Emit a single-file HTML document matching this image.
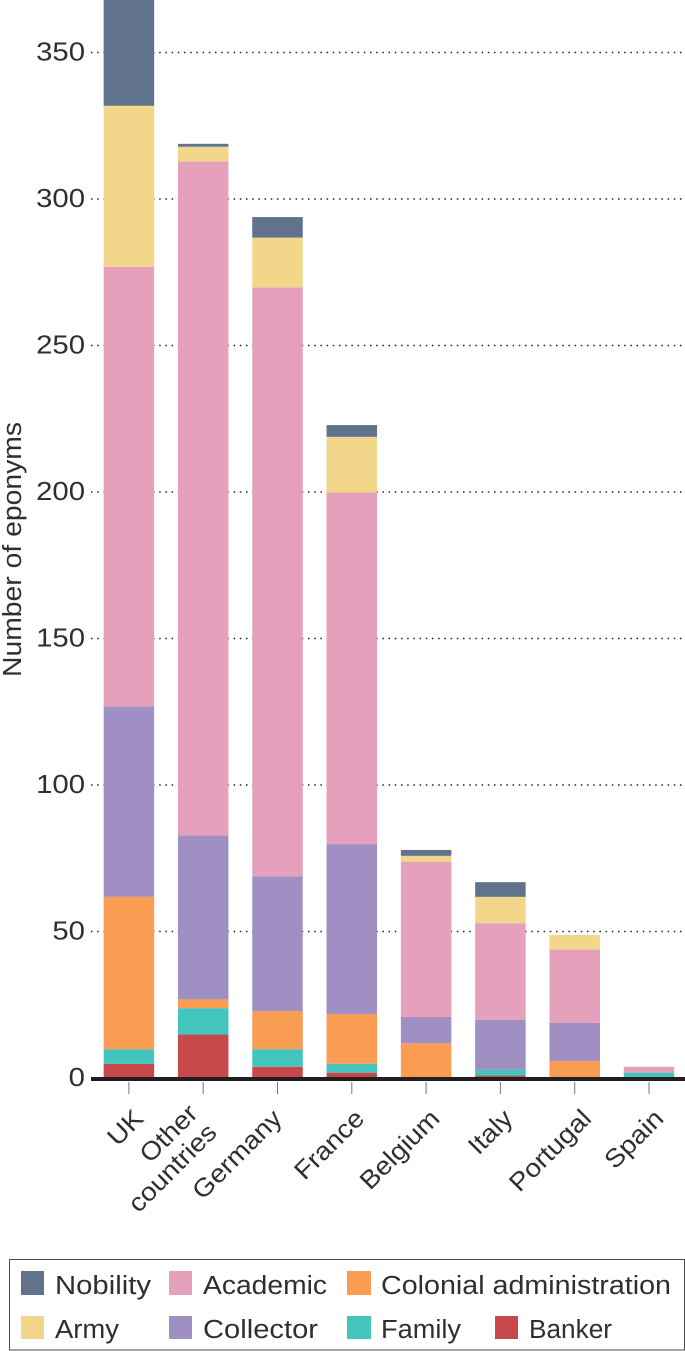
<!DOCTYPE html>
<html lang="en">
<head>
<meta charset="utf-8">
<title>Number of eponyms by country</title>
<style>
  html, body { margin: 0; padding: 0; background: #fff; }
  body { width: 685px; height: 1351px; overflow: hidden; }
  svg { display: block; }
  text { font-family: "Liberation Sans", sans-serif; font-size: 25.5px; fill: #302e2f; }
</style>
</head>
<body>
<svg id="chart" xmlns="http://www.w3.org/2000/svg" width="685" height="1351" viewBox="0 0 685 1351">
  <g id="grid"></g>
  <g id="bars"></g>
  <g id="y-axis"></g>
  <g id="x-axis"></g>
  <text transform="translate(21,677) rotate(-90)" textLength="255" lengthAdjust="spacingAndGlyphs">Number of eponyms</text>
  <g>
    <rect x="9.5" y="1259.5" width="675" height="90.5" fill="#fff" stroke="#4a4a4a" stroke-width="1"/>
    <g>
      <rect x="21" y="1271" width="23" height="24" fill="#61728c"/>
      <text x="55" y="1294" textLength="96" lengthAdjust="spacingAndGlyphs">Nobility</text>
    </g>
    <g>
      <rect x="169" y="1271" width="23" height="24" fill="#e5a0bc"/>
      <text x="203" y="1294" textLength="124" lengthAdjust="spacingAndGlyphs">Academic</text>
    </g>
    <g>
      <rect x="347" y="1271" width="24" height="24" fill="#fa9c52"/>
      <text x="381" y="1294" textLength="290" lengthAdjust="spacingAndGlyphs">Colonial administration</text>
    </g>
    <g>
      <rect x="21" y="1316" width="23" height="23" fill="#f2d78a"/>
      <text x="55" y="1338" textLength="64" lengthAdjust="spacingAndGlyphs">Army</text>
    </g>
    <g>
      <rect x="169" y="1316" width="23" height="23" fill="#9f8fc2"/>
      <text x="203" y="1338" textLength="115" lengthAdjust="spacingAndGlyphs">Collector</text>
    </g>
    <g>
      <rect x="347" y="1316" width="24" height="23" fill="#43c4bd"/>
      <text x="381" y="1338" textLength="80" lengthAdjust="spacingAndGlyphs">Family</text>
    </g>
    <g>
      <rect x="495" y="1316" width="23" height="23" fill="#c9484b"/>
      <text x="529" y="1338" textLength="83" lengthAdjust="spacingAndGlyphs">Banker</text>
    </g>
  </g>
</svg>
<script>
var categories = ["UK", "Other countries", "Germany", "France", "Belgium", "Italy", "Portugal", "Spain"];
var banker    = [5, 15, 4, 2, 0, 1, 0, 0];
var family    = [5, 9, 6, 3, 0, 2, 0, 2];
var colonial  = [52, 3, 13, 17, 12, 0, 6, 0];
var collector = [65, 56, 46, 58, 9, 17, 13, 0];
var academic  = [150, 230, 201, 120, 53, 33, 25, 2];
var army      = [55, 5, 17, 19, 2, 9, 5, 0];
var nobility  = [40, 1, 7, 4, 2, 5, 0, 0];
var yTicks = [0, 50, 100, 150, 200, 250, 300, 350];

var NS = "http://www.w3.org/2000/svg";
var WIDEN_Y = 1.15;
var WIDEN_X = 1.09;
var stackNames = ["banker", "family", "colonial-administration", "collector", "academic", "army", "nobility"];
var stackColors = ["#c9484b", "#43c4bd", "#fa9c52", "#9f8fc2", "#e5a0bc", "#f2d78a", "#61728c"];
var stackValues = [banker, family, colonial, collector, academic, army, nobility];

function yScale(v) { return 1078.5 - v * 146.5 / 50; }
function xCenter(i) { return 128.9 + i * 74.3; }
var BAR_WIDTH = 50.5;

function make(tag, attrs, parent) {
  var el = document.createElementNS(NS, tag);
  for (var k in attrs) el.setAttribute(k, attrs[k]);
  parent.appendChild(el);
  return el;
}
function widen(t, factor) {
  var len = t.getComputedTextLength();
  t.setAttribute("textLength", (len * factor).toFixed(1));
  t.setAttribute("lengthAdjust", "spacingAndGlyphs");
}
function slug(s) { return s.toLowerCase().replace(/\s+/g, "-"); }
function labelNudge(name) {
  switch (name) {
    case "UK": return 2;
    case "Germany": return -8;
    case "Belgium": return 1;
    case "Portugal": return 4;
    case "Spain": return 2;
    default: return 0;
  }
}

var gridG = document.getElementById("grid");
var barsG = document.getElementById("bars");
var yG = document.getElementById("y-axis");
var xG = document.getElementById("x-axis");

yTicks.forEach(function (v) {
  if (v > 0) {
    var line = make("line", { x1: 91, x2: 685, y1: yScale(v) - 0.5, y2: yScale(v) - 0.5, stroke: "#222", "stroke-width": 1.5, "stroke-dasharray": "1.5 4.7" }, gridG);
    
    
  }
  var label = make("text", { x: 85, y: yScale(v) + 7.5, "text-anchor": "end" }, yG);
  label.textContent = String(v);
  
  
  widen(label, WIDEN_Y);
});

categories.forEach(function (cat, i) {
  var base = 0;
  stackValues.forEach(function (series, s) {
    var v = series[i];
    if (v > 0) {
      var top = base + v;
      var rect = make("rect", {
        x: xCenter(i) - BAR_WIDTH / 2,
        y: yScale(top),
        width: BAR_WIDTH,
        height: yScale(base) - yScale(top),
        fill: stackColors[s]
      }, barsG);
      
      
      rect.setAttribute('data-series', stackNames[s]);
      rect.setAttribute('data-category', slug(cat));
      base = top;
    }
  });

  var tick = make("line", { x1: xCenter(i), x2: xCenter(i), y1: 1082, y2: 1094, stroke: "#777", "stroke-width": 1 }, xG);
  
  

  if (cat === "Other countries") {
    var other = make("text", { "text-anchor": "end", transform: "translate(" + (xCenter(i) - 4) + ",1115) rotate(-45)" }, xG);
    other.textContent = "Other";
    
    
    widen(other, WIDEN_X);
    var countries = make("text", { "text-anchor": "end", transform: "translate(" + (xCenter(i) + 15) + ",1134) rotate(-45)" }, xG);
    countries.textContent = "countries";
    
    
    widen(countries, WIDEN_X);
  } else {
    var t = make("text", { "text-anchor": "end", transform: "translate(" + (xCenter(i) + 14 + labelNudge(cat)) + ",1120) rotate(-45)" }, xG);
    t.textContent = cat;
    
    
    widen(t, WIDEN_X);
  }
});

var axisLine = make("rect", { x: 91, y: 1077, width: 594, height: 4, fill: "#231f20" }, xG);


</script>
</body>
</html>
